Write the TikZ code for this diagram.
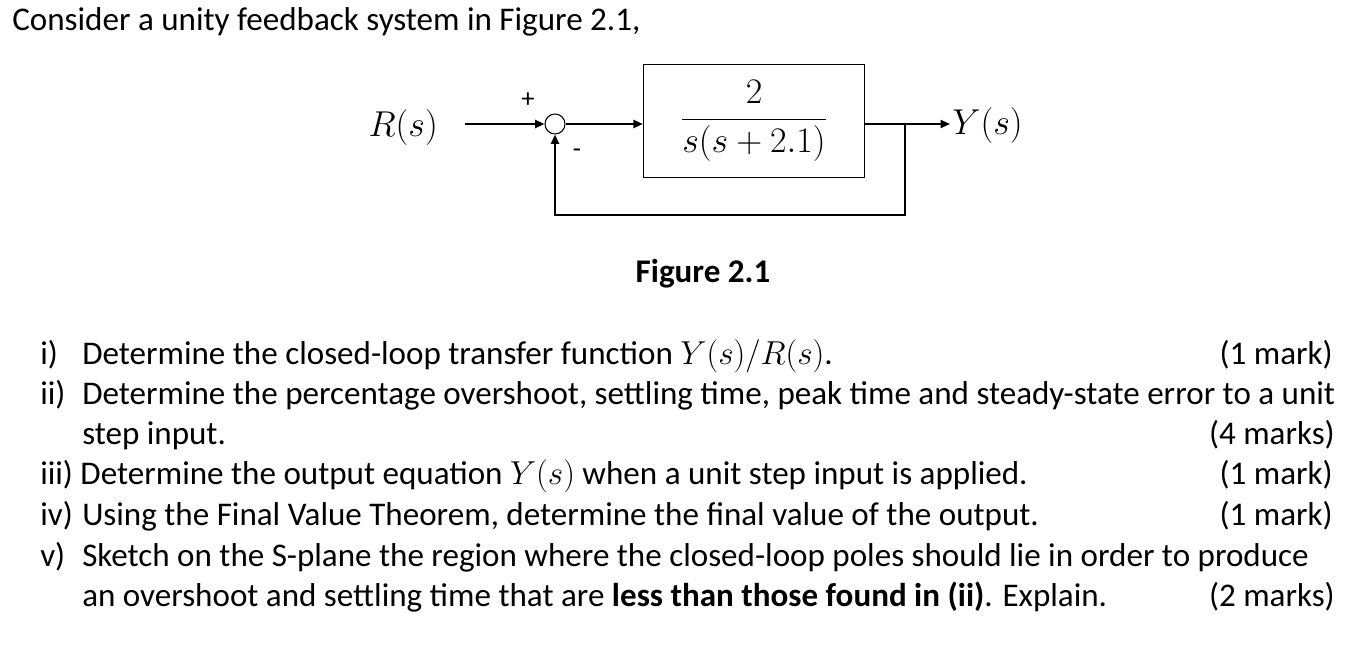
\documentclass[tikz,border=0pt]{standalone}
\usepackage{fontspec}
\usepackage{graphicx}
\setmainfont{Carlito}
\usetikzlibrary{arrows.meta}
\begin{document}
\begin{tikzpicture}[x=0.75pt,y=-0.75pt,
  txt/.style={anchor=base west,inner sep=0pt,font=\fontsize{24.8}{28}\selectfont},
  mk/.style={anchor=base east,inner sep=0pt,font=\fontsize{24.8}{28}\selectfont},
  lbl/.style={inner sep=0pt,font=\fontsize{22}{26}\selectfont},
  wire/.style={line width=1.5pt},
  arr/.style={wire,-{Triangle[length=7pt,width=6pt]}}]
\useasboundingbox (0,0) rectangle (1347,660);
\node[txt] (l0) at (12,31) {Consider a unity feedback system in Figure 2.1,};
% diagram
\node[lbl,anchor=east] (R) at (438,128) {\scalebox{1.3}{$R(s)$}};
\node[draw,circle,minimum size=15pt,inner sep=0pt,line width=0.8pt] (sum) at (555,124) {};
\node[draw,line width=0.8pt,minimum width=166pt,minimum height=85pt,inner sep=0pt] (G) at (754,121) {};
\node[lbl] (frac) at (G.center) {\scalebox{1.3}{$\displaystyle\frac{2}{s(s+2.1)}$}};
\coordinate (br) at (905,124);
\coordinate (ye) at (950,124);
\node[lbl,anchor=west] (Y) at (952,126) {\scalebox{1.3}{$Y(s)$}};
\node[inner sep=0pt,font=\fontsize{20}{22}\selectfont] (plus) at (528,100) {+};
\node[inner sep=0pt,font=\fontsize{20}{22}\selectfont] (minus) at (577,153) {-};
\draw[arr] (465,124) -- (sum.west);
\draw[arr] (sum.east) -- (G.west|-sum);
\draw[wire] (G.east|-br) -- (br);
\draw[arr] (br) -- (ye);
\coordinate (c1) at (905,215);
\coordinate (c2) at (555,215);
\draw[arr] (br) -- (c1) -- (c2) -- (sum.south);
\node[anchor=base,inner sep=0pt,font=\fontsize{24.8}{28}\selectfont\bfseries] (fig) at (703,282) {Figure 2.1};
% list
\node[txt] (a1) at (40,364) {i)};
\node[txt] (b1) at (82,364) {Determine the closed-loop transfer function $Y(s)/R(s)$.};
\node[mk] (m1) at (1333,364) {(1 mark)};
\node[txt] (a2) at (40,404) {ii)};
\node[txt] (b2) at (82,404) {Determine the percentage overshoot, settling time, peak time and steady-state error to a unit};
\node[txt] (b2b) at (82,444) {step input.};
\node[mk] (m2) at (1335,444) {(4 marks)};
\node[txt] (a3) at (40,484) {iii) Determine the output equation $Y(s)$ when a unit step input is applied.};
\node[mk] (m3) at (1333,484) {(1 mark)};
\node[txt] (a4) at (40,525) {iv)};
\node[txt] (b4) at (82,525) {Using the Final Value Theorem, determine the final value of the output.};
\node[mk] (m4) at (1333,525) {(1 mark)};
\node[txt] (a5) at (40,566) {v)};
\node[txt] (b5) at (82,566) {Sketch on the S-plane the region where the closed-loop poles should lie in order to produce};
\node[txt] (b5b) at (82,606) {an overshoot and settling time that are \textbf{less than those found in (ii)}. Explain.};
\node[mk] (m5) at (1335,606) {(2 marks)};
\end{tikzpicture}
\end{document}
